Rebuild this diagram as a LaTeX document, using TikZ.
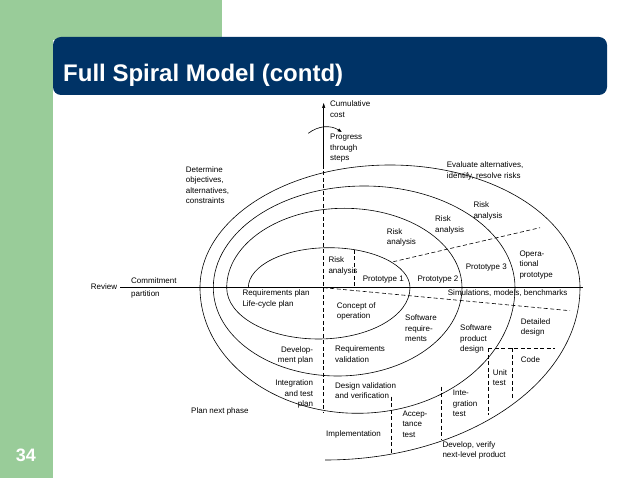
\documentclass[tikz,border=0pt]{standalone}
\usepackage{fontspec}
\setmainfont{Liberation Sans}
\usetikzlibrary{arrows.meta}
\definecolor{slgreen}{RGB}{153,204,153}
\definecolor{navy}{RGB}{0,51,102}
\begin{document}
\begin{tikzpicture}[x=1pt,y=-1pt,
  lbl/.style={font=\fontsize{8}{10.3}\selectfont,inner sep=0pt,anchor=north west,align=left},
  lblr/.style={font=\fontsize{8}{10.3}\selectfont,inner sep=0pt,anchor=north east,align=right},
  dsh/.style={dashed,dash pattern=on 4pt off 2.5pt,line width=0.6pt},
  ln/.style={line width=0.6pt}]
\path[use as bounding box] (0,0) rectangle (638,478);
\fill[slgreen] (0,0) rectangle (222,40);
\fill[slgreen] (0,0) rectangle (53,478);
\fill[navy,rounded corners=8pt] (53,37) rectangle (607,95);
\node[text=white,font=\bfseries\fontsize{24}{28}\selectfont,anchor=base west,inner sep=0pt] (title) at (63,82) {Full Spiral Model (contd)};
\node[text=white,font=\bfseries\fontsize{18}{20}\selectfont,inner sep=0pt] (num) at (26,455) {34};
% axes
\coordinate (top) at (323.7,103);
\coordinate (mid) at (323.7,165);
\coordinate (ctr) at (323.7,287.7);
\coordinate (bot) at (323.7,413.3);
\draw[ln,-{Triangle[length=5pt,width=3pt]}] (mid) -- (top);
\draw[dsh] (mid) -- (bot);
\draw[ln] (120,287.7) -- (583,287.7);
% progress arrow
\draw[ln,-{Triangle[length=4pt,width=3pt]}] (308.3,133.3) to[bend left=35] (341.7,132);
% spiral
\draw[ln] (248.3,287.7) arc[start angle=180,end angle=0,x radius=80.85pt,y radius=40pt]
  arc[start angle=0,end angle=-180,x radius=91.65pt,y radius=51.3pt]
  arc[start angle=180,end angle=0,x radius=117.65pt,y radius=79.4pt]
  arc[start angle=0,end angle=-180,x radius=124.35pt,y radius=88.3pt]
  arc[start angle=180,end angle=0,x radius=150.85pt,y radius=101.7pt]
  arc[start angle=0,end angle=-180,x radius=157.5pt,y radius=125.6pt]
  arc[start angle=180,end angle=0,x radius=190pt,y radius=122.7pt]
  arc[start angle=0,end angle=-90,x radius=255pt,y radius=172.3pt];
% dashed separators
\draw[dsh] (354,250) -- (354,287.7);
\draw[dsh] (393.3,261.7) -- (540,227.7);
\draw[dsh] (ctr) -- (570,310.7);
\draw[dsh] (488.3,348.3) -- (555,348.3);
\draw[dsh] (488.3,348.3) -- (488.3,415);
\draw[dsh] (512.3,348.3) -- (512.3,398.3);
\draw[dsh] (441.7,386.7) -- (441.7,440);
\draw[dsh] (391.7,396.7) -- (391.7,453.3);
% labels
\node[lbl] (t1) at (330,101) {Cumulative\\cost};
\node[lbl] (t2) at (330,134) {Progress\\through\\steps};
\node[lbl] (t3) at (185.7,166.5) {Determine\\objectives,\\alternatives,\\constraints};
\node[lbl] (t4) at (446.7,161.8) {Evaluate alternatives,\\identify, resolve risks};
\node[lbl] (t5) at (473.3,201.8) {Risk\\analysis};
\node[lbl] (t6) at (435,215.8) {Risk\\analysis};
\node[lbl] (t7) at (386.7,228.5) {Risk\\analysis};
\node[lbl] (t8) at (328.3,256.8) {Risk\\analysis};
\node[lbl] (t9) at (362.7,276.1) {Prototype 1};
\node[lbl] (t10) at (417.3,276.1) {Prototype 2};
\node[lbl] (t11) at (465.7,264.1) {Prototype 3};
\node[lbl] (t12) at (519.3,250.8) {Opera-\\tional\\prototype};
\node[lbl] (t13) at (90.7,283.5) {Review};
\node[lbl] (t14) at (131,277.5) {Commitment};
\node[lbl] (t15) at (131,290.8) {partition};
\node[lbl] (t16) at (242.3,289.8) {Requirements plan\\Life-cycle plan};
\node[lbl] (t17) at (336.7,302.5) {Concept of\\operation};
\node[lbl] (t18) at (447.7,289.8) {Simulations, models, benchmarks};
\node[lbl] (t19) at (405,314.8) {Software\\require-\\ments};
\node[lbl] (t20) at (460,324.8) {Software\\product\\design};
\node[lbl] (t21) at (520.7,318.1) {Detailed\\design};
\node[lblr] (t22) at (313.3,346.5) {Develop-\\ment plan};
\node[lbl] (t23) at (335,345.8) {Requirements\\validation};
\node[lbl] (t24) at (520.7,356.5) {Code};
\node[lbl] (t25) at (492.7,369.1) {Unit\\test};
\node[lblr] (t26) at (313.3,379.8) {Integration\\and test\\plan};
\node[lbl] (t27) at (335,382.5) {Design validation\\and verification};
\node[lbl] (t28) at (452.7,390.1) {Inte-\\gration\\test};
\node[lbl] (t29) at (191,407.5) {Plan next phase};
\node[lbl] (t30) at (402.3,410.8) {Accep-\\tance\\test};
\node[lbl] (t31) at (326,430.1) {Implementation};
\node[lbl] (t32) at (442.3,441.5) {Develop, verify\\next-level product};
\end{tikzpicture}
\end{document}
